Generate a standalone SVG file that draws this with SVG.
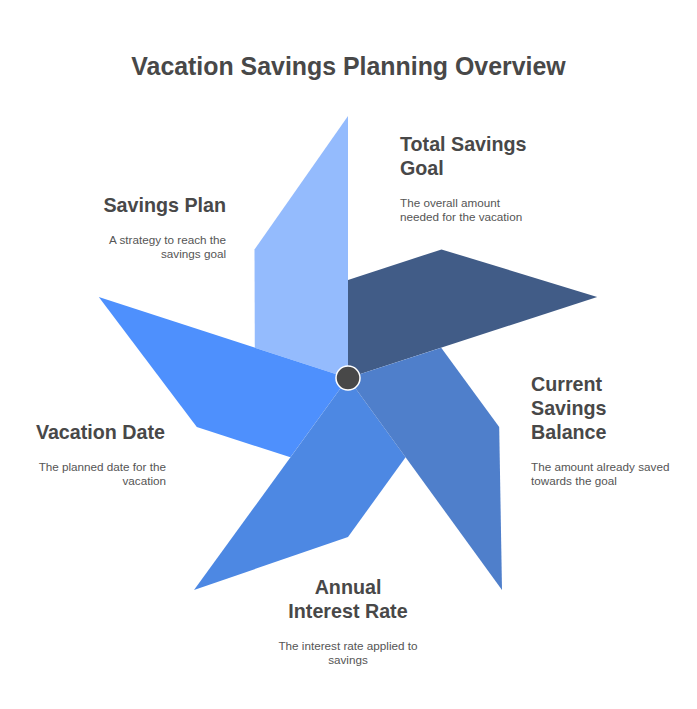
<svg xmlns="http://www.w3.org/2000/svg" width="697" height="709" viewBox="0 0 697 709">
<style>
.title{font-family:"Liberation Sans",Arial,sans-serif;font-weight:bold;font-size:24.9px;fill:#484848}
.head{font-family:"Liberation Sans",Arial,sans-serif;font-weight:bold;font-size:19.7px;fill:#484848}
.desc{font-family:"Liberation Sans",Arial,sans-serif;font-size:11.7px;fill:#555555}
</style>
<rect width="697" height="709" fill="#ffffff"/>
<text class="title" x="348.5" y="75" text-anchor="middle">Vacation Savings Planning Overview</text>
<g id="total-savings-goal">
<polygon points="348,378 348,280 441.5,249.4 597.2,297" fill="#415c87"/>
<text class="head" x="400" y="151">Total Savings</text>
<text class="head" x="400" y="175">Goal</text>
<text class="desc" x="400" y="207">The overall amount</text>
<text class="desc" x="400" y="221">needed for the vacation</text>
</g>
<g id="savings-plan">
<polygon points="348,378 254.8,347.7 254.5,249.4 348,116" fill="#94bbfd"/>
<text class="head" x="226" y="212" text-anchor="end">Savings Plan</text>
<text class="desc" x="226" y="244" text-anchor="end">A strategy to reach the</text>
<text class="desc" x="226" y="258" text-anchor="end">savings goal</text>
</g>
<g id="vacation-date">
<polygon points="348,378 290.4,457.3 196.8,427.1 98.8,297" fill="#4e90fd"/>
<text class="head" x="165" y="439" text-anchor="end">Vacation Date</text>
<text class="desc" x="166" y="471" text-anchor="end">The planned date for the</text>
<text class="desc" x="166" y="485" text-anchor="end">vacation</text>
</g>
<g id="annual-interest-rate">
<polygon points="348,378 405.6,457.3 348,537 194,590" fill="#4d88e3"/>
<text class="head" x="348" y="594" text-anchor="middle">Annual</text>
<text class="head" x="348" y="618" text-anchor="middle">Interest Rate</text>
<text class="desc" x="348" y="650" text-anchor="middle">The interest rate applied to</text>
<text class="desc" x="348" y="664" text-anchor="middle">savings</text>
</g>
<g id="current-savings-balance">
<polygon points="348,378 441.2,347.7 499.2,427.1 502,590" fill="#4f7fcb"/>
<text class="head" x="531" y="391">Current</text>
<text class="head" x="531" y="415">Savings</text>
<text class="head" x="531" y="439">Balance</text>
<text class="desc" x="531" y="471">The amount already saved</text>
<text class="desc" x="531" y="485">towards the goal</text>
</g>
<g id="connectors"></g>
<g id="hub">
<circle cx="348" cy="378" r="12" fill="#484848" stroke="#ffffff" stroke-width="1.5"/>
</g>
</svg>
